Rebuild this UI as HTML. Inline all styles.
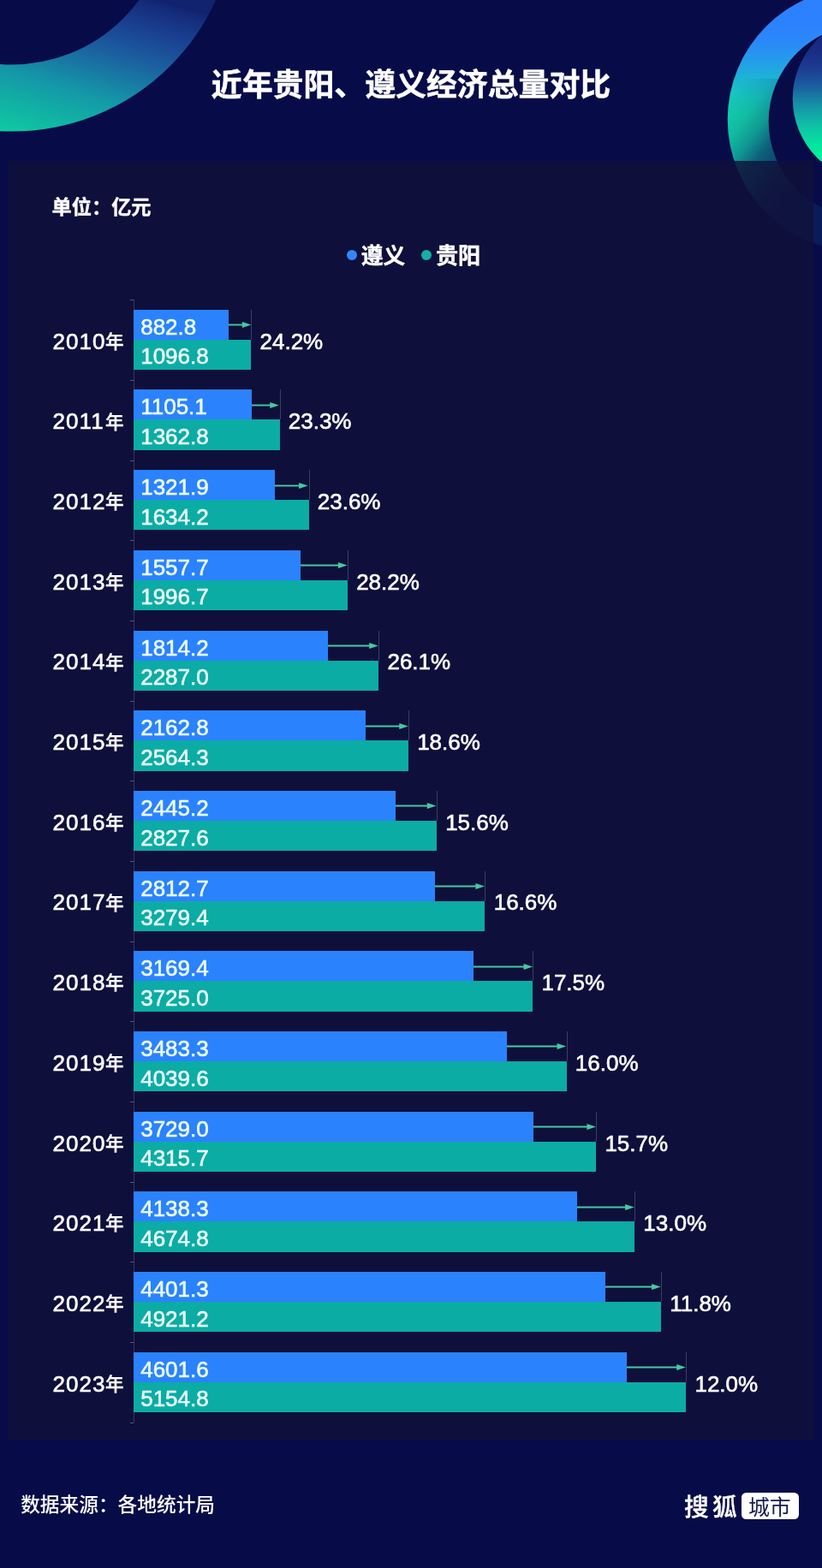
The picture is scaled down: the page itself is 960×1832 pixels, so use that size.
<!DOCTYPE html>
<html lang="zh-CN">
<head>
<meta charset="utf-8">
<title>近年贵阳、遵义经济总量对比</title>
<style>
html,body{margin:0;padding:0}
body{width:960px;height:1832px;position:relative;overflow:hidden;background:#070c48;font-family:"Liberation Sans",sans-serif;color:#fff}
.abs,.deco,.panel,.glyphs,.bar,.yr,.pc,.vl,.ar,.tk,.axis,.dot,.badge,.h{position:absolute}
#stage{position:absolute;left:0;top:0;width:960px;height:1832px;overflow:hidden;will-change:transform}
.deco{left:0;top:0}
.panel{left:10px;top:188px;width:940px;height:1494px;background:rgba(16,17,56,.8)}
.glyphs{left:0;top:0;pointer-events:none}
.glyphs text{font-family:"Liberation Sans","Noto Sans CJK SC",sans-serif}
.h{color:transparent;font-size:1px;left:0;top:0;white-space:nowrap;overflow:hidden;width:1px;height:1px}
.bar{left:156.0px;height:35.0px}
.bar.z{background:#2b82fd}
.bar.g{background:#0baca4;height:35.3px}
.bar span{position:absolute;left:8.2px;top:5px;font-size:26px;line-height:30px;color:#ecfdff;white-space:nowrap}
.bar.g span{top:4.6px}
.yr,.pc,.bar span{-webkit-text-stroke:.6px currentColor}
.yr{left:61.6px;font-size:26px;line-height:30px;letter-spacing:1.05px;white-space:nowrap}
.pc{font-size:26px;line-height:30px;white-space:nowrap}
.vl{width:1px;height:35.0px;background:rgba(255,255,255,.19)}
.ar{overflow:visible}
.axis{left:155.5px;top:350.20px;width:1px;height:1311.66px;background:rgba(255,255,255,.16)}
.tk{left:152px;width:4px;height:1px;background:rgba(255,255,255,.3)}
.dot{width:12px;height:12px;border-radius:50%}
.badge{left:865.6px;top:1744.2px;width:67.6px;height:30.8px;border-radius:5.5px;background:#fff}
</style>
</head>
<body>
<div id="stage">
<svg class="deco" width="960" height="300" viewBox="0 0 960 300">
<defs>
<linearGradient id="ga" gradientUnits="userSpaceOnUse" x1="0" y1="150" x2="55" y2="-38">
<stop offset="0" stop-color="#0fc8a0"/><stop offset=".34" stop-color="#1498a8"/><stop offset=".62" stop-color="#1b5fa0"/><stop offset=".82" stop-color="#1a3f90"/><stop offset=".97" stop-color="#142a78"/><stop offset="1" stop-color="#11226e"/>
</linearGradient>
<linearGradient id="gb" gradientUnits="userSpaceOnUse" x1="0" y1="0" x2="0" y2="300">
<stop offset="0" stop-color="#2c80ff"/><stop offset=".1" stop-color="#2c82fd"/><stop offset=".167" stop-color="#2a89f7"/><stop offset=".233" stop-color="#249cea"/><stop offset=".307" stop-color="#1cb4d4"/><stop offset=".373" stop-color="#16c8bc"/><stop offset=".45" stop-color="#12d2ac"/><stop offset="1" stop-color="#10ceac"/>
</linearGradient>
<linearGradient id="gd" gradientUnits="userSpaceOnUse" x1="850" y1="116.7" x2="954" y2="194.7">
<stop offset="0" stop-color="#0a1a5c" stop-opacity="0"/><stop offset=".215" stop-color="#0a1a5c" stop-opacity=".12"/><stop offset=".323" stop-color="#0a1a5c" stop-opacity=".25"/><stop offset=".377" stop-color="#0a1a5c" stop-opacity=".31"/><stop offset=".523" stop-color="#0a1a5c" stop-opacity=".6"/><stop offset=".77" stop-color="#0a1a5c" stop-opacity=".86"/><stop offset="1" stop-color="#0a1b5a" stop-opacity="1"/>
</linearGradient>
<linearGradient id="gc" gradientUnits="userSpaceOnUse" x1="0" y1="17.9" x2="0" y2="212.7">
<stop offset="0" stop-color="#151e76"/><stop offset=".124" stop-color="#18267e"/><stop offset=".216" stop-color="#1a2c84"/><stop offset=".319" stop-color="#1c3c92"/><stop offset=".42" stop-color="#1b5c9e"/><stop offset=".5" stop-color="#1880a4"/><stop offset=".575" stop-color="#14a0a8"/><stop offset=".68" stop-color="#0cc8a4"/><stop offset=".78" stop-color="#04e49e"/><stop offset=".86" stop-color="#00f59a"/><stop offset="1" stop-color="#00f89a"/>
</linearGradient>
<mask id="rc" maskUnits="userSpaceOnUse" x="840" y="-10" width="130" height="320"><path fill="#fff" fill-rule="evenodd" d="M849.7 139.6a154 154 0 1 0 308 0a154 154 0 1 0 -308 0zM897.6 141.8a112.7 112.7 0 1 0 225.4 0a112.7 112.7 0 1 0 -225.4 0z"/></mask>
</defs>
<circle cx="14" cy="-108" r="222.5" fill="none" stroke="url(#ga)" stroke-width="78"/>
<g mask="url(#rc)"><rect x="840" y="-10" width="130" height="320" fill="url(#gb)"/><rect x="840" y="92" width="130" height="220" fill="url(#gd)"/></g>
<circle cx="1023.1" cy="115.3" r="97.4" fill="url(#gc)"/>
</svg>
<div class="panel"></div>
<h1 class="h">近年贵阳、遵义经济总量对比</h1>
<div class="h">单位：亿元</div>
<div class="dot" style="left:404.8px;top:291.5px;background:#3485fb"></div><span class="h">遵义</span>
<div class="dot" style="left:491.7px;top:291.5px;background:#14b0a2"></div><span class="h">贵阳</span>
<div class="axis"></div>
<div class="tk" style="top:350.20px"></div><div class="tk" style="top:443.89px"></div><div class="tk" style="top:537.58px"></div><div class="tk" style="top:631.27px"></div><div class="tk" style="top:724.96px"></div><div class="tk" style="top:818.65px"></div><div class="tk" style="top:912.34px"></div><div class="tk" style="top:1006.03px"></div><div class="tk" style="top:1099.72px"></div><div class="tk" style="top:1193.41px"></div><div class="tk" style="top:1287.10px"></div><div class="tk" style="top:1380.79px"></div><div class="tk" style="top:1474.48px"></div><div class="tk" style="top:1568.17px"></div><div class="tk" style="top:1661.86px"></div>
<div class="row"><div class="yr" style="top:383.60px">2010<span class="h">年</span></div><div class="bar z" style="top:361.80px;width:110.50px"><span>882.8</span></div><div class="bar g" style="top:396.80px;width:137.29px"><span>1096.8</span></div><div class="vl" style="left:293.29px;top:361.80px"></div><svg class="ar" style="left:266.50px;top:375.20px" width="26.79" height="9" viewBox="0 0 26.79 9"><path d="M0 4.5H17.79" stroke="#45caa0" stroke-width="1.9" fill="none"/><path d="M15.79 1l10.6 3.5l-10.6 3.5z" fill="#45caa0"/></svg><div class="pc" style="left:303.49px;top:383.60px">24.2%</div></div>
<div class="row"><div class="yr" style="top:477.29px">2011<span class="h">年</span></div><div class="bar z" style="top:455.49px;width:138.33px"><span>1105.1</span></div><div class="bar g" style="top:490.49px;width:170.58px"><span>1362.8</span></div><div class="vl" style="left:326.58px;top:455.49px"></div><svg class="ar" style="left:294.33px;top:468.89px" width="32.26" height="9" viewBox="0 0 32.26 9"><path d="M0 4.5H23.26" stroke="#45caa0" stroke-width="1.9" fill="none"/><path d="M21.26 1l10.6 3.5l-10.6 3.5z" fill="#45caa0"/></svg><div class="pc" style="left:336.78px;top:477.29px">23.3%</div></div>
<div class="row"><div class="yr" style="top:570.98px">2012<span class="h">年</span></div><div class="bar z" style="top:549.18px;width:165.46px"><span>1321.9</span></div><div class="bar g" style="top:584.18px;width:204.55px"><span>1634.2</span></div><div class="vl" style="left:360.55px;top:549.18px"></div><svg class="ar" style="left:321.46px;top:562.58px" width="39.09" height="9" viewBox="0 0 39.09 9"><path d="M0 4.5H30.09" stroke="#45caa0" stroke-width="1.9" fill="none"/><path d="M28.09 1l10.6 3.5l-10.6 3.5z" fill="#45caa0"/></svg><div class="pc" style="left:370.75px;top:570.98px">23.6%</div></div>
<div class="row"><div class="yr" style="top:664.67px">2013<span class="h">年</span></div><div class="bar z" style="top:642.87px;width:194.98px"><span>1557.7</span></div><div class="bar g" style="top:677.87px;width:249.93px"><span>1996.7</span></div><div class="vl" style="left:405.93px;top:642.87px"></div><svg class="ar" style="left:350.98px;top:656.27px" width="54.95" height="9" viewBox="0 0 54.95 9"><path d="M0 4.5H45.95" stroke="#45caa0" stroke-width="1.9" fill="none"/><path d="M43.95 1l10.6 3.5l-10.6 3.5z" fill="#45caa0"/></svg><div class="pc" style="left:416.13px;top:664.67px">28.2%</div></div>
<div class="row"><div class="yr" style="top:758.36px">2014<span class="h">年</span></div><div class="bar z" style="top:736.56px;width:227.08px"><span>1814.2</span></div><div class="bar g" style="top:771.56px;width:286.26px"><span>2287.0</span></div><div class="vl" style="left:442.26px;top:736.56px"></div><svg class="ar" style="left:383.08px;top:749.96px" width="59.18" height="9" viewBox="0 0 59.18 9"><path d="M0 4.5H50.18" stroke="#45caa0" stroke-width="1.9" fill="none"/><path d="M48.18 1l10.6 3.5l-10.6 3.5z" fill="#45caa0"/></svg><div class="pc" style="left:452.46px;top:758.36px">26.1%</div></div>
<div class="row"><div class="yr" style="top:852.05px">2015<span class="h">年</span></div><div class="bar z" style="top:830.25px;width:270.72px"><span>2162.8</span></div><div class="bar g" style="top:865.25px;width:320.97px"><span>2564.3</span></div><div class="vl" style="left:476.97px;top:830.25px"></div><svg class="ar" style="left:426.72px;top:843.65px" width="50.26" height="9" viewBox="0 0 50.26 9"><path d="M0 4.5H41.26" stroke="#45caa0" stroke-width="1.9" fill="none"/><path d="M39.26 1l10.6 3.5l-10.6 3.5z" fill="#45caa0"/></svg><div class="pc" style="left:487.17px;top:852.05px">18.6%</div></div>
<div class="row"><div class="yr" style="top:945.74px">2016<span class="h">年</span></div><div class="bar z" style="top:923.94px;width:306.07px"><span>2445.2</span></div><div class="bar g" style="top:958.94px;width:353.93px"><span>2827.6</span></div><div class="vl" style="left:509.93px;top:923.94px"></div><svg class="ar" style="left:462.07px;top:937.34px" width="47.87" height="9" viewBox="0 0 47.87 9"><path d="M0 4.5H38.87" stroke="#45caa0" stroke-width="1.9" fill="none"/><path d="M36.87 1l10.6 3.5l-10.6 3.5z" fill="#45caa0"/></svg><div class="pc" style="left:520.13px;top:945.74px">15.6%</div></div>
<div class="row"><div class="yr" style="top:1039.43px">2017<span class="h">年</span></div><div class="bar z" style="top:1017.63px;width:352.07px"><span>2812.7</span></div><div class="bar g" style="top:1052.63px;width:410.48px"><span>3279.4</span></div><div class="vl" style="left:566.48px;top:1017.63px"></div><svg class="ar" style="left:508.07px;top:1031.03px" width="58.42" height="9" viewBox="0 0 58.42 9"><path d="M0 4.5H49.42" stroke="#45caa0" stroke-width="1.9" fill="none"/><path d="M47.42 1l10.6 3.5l-10.6 3.5z" fill="#45caa0"/></svg><div class="pc" style="left:576.68px;top:1039.43px">16.6%</div></div>
<div class="row"><div class="yr" style="top:1133.12px">2018<span class="h">年</span></div><div class="bar z" style="top:1111.32px;width:396.71px"><span>3169.4</span></div><div class="bar g" style="top:1146.32px;width:466.26px"><span>3725.0</span></div><div class="vl" style="left:622.26px;top:1111.32px"></div><svg class="ar" style="left:552.71px;top:1124.72px" width="69.54" height="9" viewBox="0 0 69.54 9"><path d="M0 4.5H60.54" stroke="#45caa0" stroke-width="1.9" fill="none"/><path d="M58.54 1l10.6 3.5l-10.6 3.5z" fill="#45caa0"/></svg><div class="pc" style="left:632.46px;top:1133.12px">17.5%</div></div>
<div class="row"><div class="yr" style="top:1226.81px">2019<span class="h">年</span></div><div class="bar z" style="top:1205.01px;width:436.00px"><span>3483.3</span></div><div class="bar g" style="top:1240.01px;width:505.64px"><span>4039.6</span></div><div class="vl" style="left:661.64px;top:1205.01px"></div><svg class="ar" style="left:592.00px;top:1218.41px" width="69.63" height="9" viewBox="0 0 69.63 9"><path d="M0 4.5H60.63" stroke="#45caa0" stroke-width="1.9" fill="none"/><path d="M58.63 1l10.6 3.5l-10.6 3.5z" fill="#45caa0"/></svg><div class="pc" style="left:671.84px;top:1226.81px">16.0%</div></div>
<div class="row"><div class="yr" style="top:1320.50px">2020<span class="h">年</span></div><div class="bar z" style="top:1298.70px;width:466.76px"><span>3729.0</span></div><div class="bar g" style="top:1333.70px;width:540.20px"><span>4315.7</span></div><div class="vl" style="left:696.20px;top:1298.70px"></div><svg class="ar" style="left:622.76px;top:1312.10px" width="73.44" height="9" viewBox="0 0 73.44 9"><path d="M0 4.5H64.44" stroke="#45caa0" stroke-width="1.9" fill="none"/><path d="M62.44 1l10.6 3.5l-10.6 3.5z" fill="#45caa0"/></svg><div class="pc" style="left:706.40px;top:1320.50px">15.7%</div></div>
<div class="row"><div class="yr" style="top:1414.19px">2021<span class="h">年</span></div><div class="bar z" style="top:1392.39px;width:517.99px"><span>4138.3</span></div><div class="bar g" style="top:1427.39px;width:585.14px"><span>4674.8</span></div><div class="vl" style="left:741.14px;top:1392.39px"></div><svg class="ar" style="left:673.99px;top:1405.79px" width="67.15" height="9" viewBox="0 0 67.15 9"><path d="M0 4.5H58.15" stroke="#45caa0" stroke-width="1.9" fill="none"/><path d="M56.15 1l10.6 3.5l-10.6 3.5z" fill="#45caa0"/></svg><div class="pc" style="left:751.34px;top:1414.19px">13.0%</div></div>
<div class="row"><div class="yr" style="top:1507.88px">2022<span class="h">年</span></div><div class="bar z" style="top:1486.08px;width:550.91px"><span>4401.3</span></div><div class="bar g" style="top:1521.08px;width:615.99px"><span>4921.2</span></div><div class="vl" style="left:771.99px;top:1486.08px"></div><svg class="ar" style="left:706.91px;top:1499.48px" width="65.08" height="9" viewBox="0 0 65.08 9"><path d="M0 4.5H56.08" stroke="#45caa0" stroke-width="1.9" fill="none"/><path d="M54.08 1l10.6 3.5l-10.6 3.5z" fill="#45caa0"/></svg><div class="pc" style="left:782.19px;top:1507.88px">11.8%</div></div>
<div class="row"><div class="yr" style="top:1601.57px">2023<span class="h">年</span></div><div class="bar z" style="top:1579.77px;width:575.98px"><span>4601.6</span></div><div class="bar g" style="top:1614.77px;width:645.23px"><span>5154.8</span></div><div class="vl" style="left:801.23px;top:1579.77px"></div><svg class="ar" style="left:731.98px;top:1593.17px" width="69.24" height="9" viewBox="0 0 69.24 9"><path d="M0 4.5H60.24" stroke="#45caa0" stroke-width="1.9" fill="none"/><path d="M58.24 1l10.6 3.5l-10.6 3.5z" fill="#45caa0"/></svg><div class="pc" style="left:811.43px;top:1601.57px">12.0%</div></div>
<div class="h">数据来源：各地统计局</div>
<div class="h">搜狐</div>
<div class="badge"><span class="h">城市</span></div>
<svg class="glyphs" width="960" height="1832" viewBox="0 0 960 1832">
<g fill="#fff" stroke="#fff" stroke-width="0.3" font-size="21.69" font-weight="500">
<text x="122.95" y="406.88">年</text>
<text x="122.95" y="500.57">年</text>
<text x="122.95" y="594.26">年</text>
<text x="122.95" y="687.95">年</text>
<text x="122.95" y="781.64">年</text>
<text x="122.95" y="875.33">年</text>
<text x="122.95" y="969.02">年</text>
<text x="122.95" y="1062.71">年</text>
<text x="122.95" y="1156.40">年</text>
<text x="122.95" y="1250.09">年</text>
<text x="122.95" y="1343.78">年</text>
<text x="122.95" y="1437.47">年</text>
<text x="122.95" y="1531.16">年</text>
<text x="122.95" y="1624.85">年</text>
</g>
<text x="246.84" y="112.01" font-size="35.88" font-weight="700" fill="#fff" stroke="#fff" stroke-width="0.5">近年贵阳、遵义经济总量对比</text>
<text x="60.59" y="250.20" font-size="23.19" font-weight="700" fill="#fff" stroke="#fff" stroke-width="0.37">单位：亿元</text>
<text x="421.75" y="307.89" font-size="25.79" font-weight="700" fill="#fff" stroke="#fff" stroke-width="0.41">遵义</text>
<text x="508.89" y="307.87" font-size="26.13" font-weight="700" fill="#fff" stroke="#fff" stroke-width="0.42">贵阳</text>
<text x="24.17" y="1765.68" font-size="22.70" font-weight="500" fill="#fff">数据来源：各地统计局</text>
<text x="799.05" y="1770.93" font-size="28.69" font-weight="500" letter-spacing="4.31" fill="#fff" stroke="#fff" stroke-width="0.34">搜狐</text>
<text x="873.98" y="1769.91" font-size="24.87" font-weight="400" fill="#161b52">城市</text>
</svg>
</div>
</body>
</html>
